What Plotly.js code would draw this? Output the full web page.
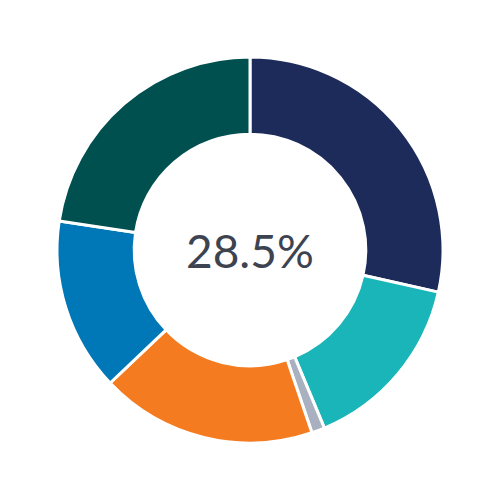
<!DOCTYPE html>
<html>
<head>
<meta charset="utf-8">
<script src="https://cdn.plot.ly/plotly-3.0.1.min.js"></script>
<style>html,body{margin:0;padding:0;background:#fff;}#chart{width:500px;height:500px;}</style>
</head>
<body>
<div id="chart"></div>
<script>
const labels = ["Segment A", "Segment B", "Segment C", "Segment D", "Segment E", "Segment F"];
const values = [28.5, 15.2, 1.1, 18.1, 14.5, 22.6];
const colors = ["#1c2b5a", "#1ab5b8", "#a9b1c0", "#f47b20", "#0077b6", "#00504f"];
const centerText = "28.5%";

Plotly.newPlot("chart", [{
  type: "pie",
  labels: labels,
  values: values,
  hole: 0.6,
  sort: false,
  direction: "clockwise",
  rotation: 0,
  textinfo: "none",
  hoverinfo: "label+percent",
  marker: {colors: colors, line: {color: "#ffffff", width: 3}}
}], {
  width: 500,
  height: 500,
  margin: {l: 57, r: 57, t: 57, b: 57},
  showlegend: false,
  paper_bgcolor: "#ffffff",
  annotations: [{
    text: centerText,
    x: 0.5, y: 0.5, xref: "paper", yref: "paper",
    showarrow: false,
    font: {family: "Lato, sans-serif", size: 46, color: "#3d4350"}
  }]
}, {displayModeBar: false, staticPlot: true});
</script>
</body>
</html>
